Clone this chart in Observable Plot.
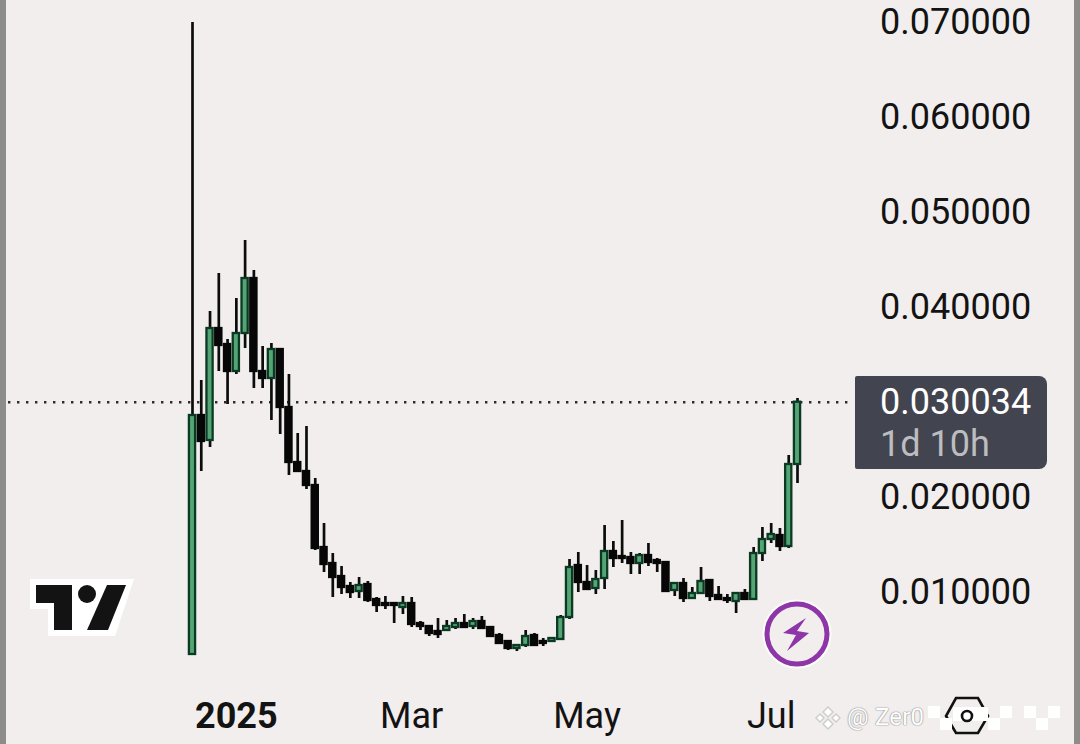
<!DOCTYPE html>
<html><head><meta charset="utf-8">
<script src="https://cdn.jsdelivr.net/npm/d3@7"></script>
<script src="https://cdn.jsdelivr.net/npm/@observablehq/plot@0.6"></script>
<style>
html,body{margin:0;padding:0;background:#f2eeee;width:1080px;height:744px;overflow:hidden;font-family:Roboto,sans-serif}
#stage{position:relative;width:1080px;height:744px}
#stage>*{position:absolute;left:0;top:0}
#box{left:855px;top:376px;width:192px;height:93px;background:#424450;border-radius:2px 8px 8px 2px}
#strips{width:1080px;height:744px}
</style></head><body>
<div id="stage">
<div id="box"></div>
<svg id="strips" width="1080" height="744" viewBox="0 0 1080 744">
  <rect x="0" y="0" width="6" height="744" fill="#8e8c8a"/>
  <rect x="1074" y="0" width="6" height="744" fill="#8e8c8a"/>
  <polygon points="30,579 134,579 115,636 48,636 48,609 30,609" fill="#fff"/>
  <polygon points="36,585 72,585 72,630 54,630 54,603 36,603" fill="#131313"/>
  <circle cx="87" cy="594" r="9" fill="#131313"/>
  <polygon points="107,585 126,585 108,630 87,630" fill="#131313"/>
  <circle cx="797" cy="634" r="33.5" fill="none" stroke="#fff" stroke-width="2" opacity=".8"/>
  <circle cx="797" cy="634" r="30" fill="none" stroke="#8e35a8" stroke-width="5"/>
  <polygon points="806,618 783,633 796,635 787,651 809,633 797,631" fill="#8e35a8"/>
  <g fill="#fff" stroke="#cfcdcd" stroke-width="1.5">
    <polygon points="828,707 833,712 828,717 823,712"/>
    <polygon points="820,714 824,718 820,722 816,718"/>
    <polygon points="836,714 840,718 836,722 832,718"/>
    <polygon points="828,719 833,724 828,729 823,724"/>
  </g>
  <polygon points="956,698 978,698 988,716 978,733 956,733 946,716" fill="none" stroke="#111" stroke-width="2.6"/>
  <g fill="#fff">
    <rect x="928" y="706" width="12" height="12"/><rect x="940" y="718" width="12" height="12"/>
    <rect x="953" y="707" width="35" height="14"/>
    <rect x="988" y="718" width="12" height="12"/><rect x="1000" y="706" width="12" height="12"/>
    <rect x="1024" y="706" width="12" height="12"/><rect x="1036" y="718" width="12" height="12"/><rect x="1048" y="706" width="12" height="12"/>
  </g>
  <circle cx="967" cy="716" r="5" fill="none" stroke="#111" stroke-width="2.6"/>
</svg>
<div style="left:847px;top:703px;font-size:24px;color:#fff;letter-spacing:.2px;text-shadow:0 0 1.5px #777,0 0 1px #999;white-space:nowrap">@ Zer0</div>
</div>
<script>
const startDate = new Date(Date.UTC(2024, 11, 17));
const stepDays = 3;
const opens = [.003474,.028632,.026,.037789,.036105,.033263,.037263,.043053,.033263,.032526,.035579,.029474,.023684,.022737,.021263,.014737,.013053,.011684,.010632,.010105,.010842,.009263,.008842,.008842,.008421,.008842,.006737,.006421,.005895,.006,.006316,.006737,.006421,.006947,.006316,.005474,.004842,.004105,.004421,.005474,.004842,.004842,.005053,.007368,.012842,.011053,.010421,.011474,.014316,.013789,.013684,.013053,.013895,.013368,.013158,.010211,.010947,.009368,.009895,.011263,.009684,.009368,.009053,.009895,.009263,.014105,.015579,.016,.014842,.023474];
const closes = [.028632,.025895,.037789,.036,.033263,.037263,.043053,.033263,.032526,.035579,.029474,.023684,.022737,.021263,.014632,.012947,.011579,.010526,.01,.010737,.009158,.008632,.008632,.008632,.008842,.006632,.006421,.005684,.005579,.006421,.006737,.006316,.006947,.006211,.005368,.004632,.004105,.004421,.005368,.004421,.004632,.005158,.007368,.012632,.011053,.010316,.011368,.014316,.013579,.013579,.013053,.013895,.013158,.013053,.010105,.010947,.009368,.009895,.011158,.009579,.009263,.009158,.009895,.009263,.014105,.015579,.016105,.014842,.023474,.030034];
const highs = [.07,.032316,.039579,.043579,.036632,.040947,.047053,.043895,.035895,.036211,.035684,.032947,.026737,.027474,.022,.017263,.014105,.012737,.011053,.011579,.011158,.009474,.009579,.008947,.009579,.009474,.006947,.006526,.007263,.007053,.007263,.007684,.007263,.007474,.006316,.005684,.004842,.004526,.006,.005684,.005158,.005158,.007579,.013474,.014211,.012842,.012316,.017053,.015368,.017579,.014211,.014105,.015158,.013579,.013158,.011053,.011474,.010526,.012632,.011368,.010632,.009789,.01,.010316,.014737,.016842,.017263,.016737,.024421,.030421];
const lows = [.003474,.022737,.025263,.033263,.029789,.032947,.035684,.031474,.031474,.028105,.026632,.022316,.022632,.020842,.014421,.012105,.009474,.009789,.009368,.009368,.008947,.007895,.008211,.006737,.007684,.006316,.006,.005368,.005158,.005895,.006105,.006316,.006105,.006105,.005263,.004526,.003895,.003789,.004211,.004421,.004316,.004842,.004947,.007158,.01,.010211,.009789,.010316,.012632,.013053,.011895,.011895,.012737,.012105,.010105,.009579,.008947,.009263,.009789,.009053,.009158,.008842,.007789,.009158,.009158,.013263,.015158,.014316,.014632,.021474];
const priceTicks = [.01,.02,.04,.05,.06,.07];
const lastPrice = .030034;
const countdown = "1d 10h";
const timeLabels = ["2025","Mar","May","Jul"];
const timeTicks = [new Date(Date.UTC(2025,0,1)),new Date(Date.UTC(2025,2,2)),new Date(Date.UTC(2025,4,1)),new Date(Date.UTC(2025,6,3))];

const dayMs = 864e5;
const candles = opens.map((o,i)=>({date:new Date(+startDate+i*stepDays*dayMs),open:o,close:closes[i],high:highs[i],low:lows[i]}));
const up = candles.filter(c=>c.close>=c.open), down = candles.filter(c=>c.close<c.open);
const half = 1.06*dayMs;
const bodyOpts = {x1:c=>new Date(+c.date-half),x2:c=>new Date(+c.date+half),y1:"open",y2:"close",strokeWidth:2.3};
const fmtTime = d=>timeLabels[timeTicks.findIndex(t=>+t===+d)];

const chart = Plot.plot({
  width:1080,height:744,marginLeft:8,marginRight:228,marginTop:0,marginBottom:50,
  style:{fontFamily:"Roboto, sans-serif",background:"transparent",color:"#131313"},
  x:{type:"utc",domain:[startDate,candles[candles.length-1].date],range:[192,797]},
  y:{type:"linear",domain:[.01,.07],range:[592,22]},
  marks:[
    Plot.ruleY([lastPrice],{stroke:"#2c2c30",strokeWidth:2.6,strokeDasharray:"2.4 6.6"}),
    Plot.ruleX(candles,{x:"date",y1:"low",y2:"high",stroke:"#0c0c0c",strokeWidth:2.7}),
    Plot.rect(down,{...bodyOpts,fill:"#070707",stroke:"#070707"}),
    Plot.rect(up,{...bodyOpts,fill:"#55a473",stroke:"#0b3a24"}),
    Plot.axisY({anchor:"right",ticks:priceTicks,tickFormat:d3.format(".6f"),tickSize:0,tickPadding:27.5,fontSize:36,label:null,fill:"#131313"}),
    Plot.axisX({anchor:"bottom",ticks:timeTicks.slice(1),tickFormat:fmtTime,tickSize:0,tickPadding:8,fontSize:36,label:null,fill:"#131313"}),
    Plot.axisX({anchor:"bottom",ticks:timeTicks.slice(0,1),tickFormat:fmtTime,tickSize:0,tickPadding:8,fontSize:36,fontWeight:"bold",label:null,fill:"#131313"}),
    Plot.text([lastPrice],{y:d=>d,text:d=>d3.format(".6f")(d),frameAnchor:"right",dx:27.5,textAnchor:"start",fontSize:36,fill:"#fff"}),
    Plot.text([lastPrice],{y:()=>lastPrice,text:()=>countdown,frameAnchor:"right",dx:27.5,dy:42,textAnchor:"start",fontSize:36,fill:"#bdbdc0"})
  ]
});
chart.style.position="absolute";
document.getElementById("stage").appendChild(chart);
</script>
</body></html>
